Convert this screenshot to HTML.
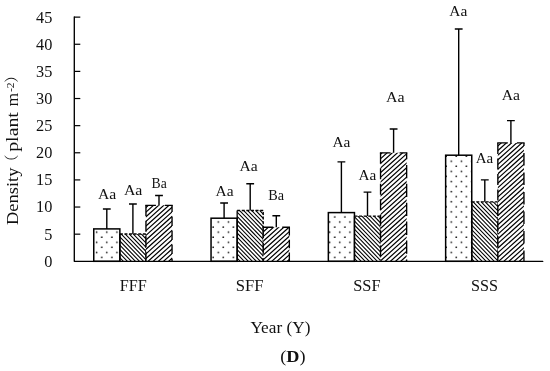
<!DOCTYPE html>
<html lang="en">
<head>
<meta charset="utf-8">
<title>Density chart (D)</title>
<style>
html,body{margin:0;padding:0;background:#fff;}
body{width:550px;height:371px;overflow:hidden;}
svg{display:block;}
text{font-family:"Liberation Serif","Noto Serif CJK SC",serif;fill:#111;}
.cjk{font-family:"Noto Serif CJK SC","Liberation Serif",serif;}
.ax{stroke:#000;stroke-width:1.35;fill:none;stroke-linecap:round;stroke-linejoin:round;}
.tk{stroke:#000;stroke-width:1.2;fill:none;}
.eb{stroke:#000;stroke-width:1.4;fill:none;}
</style>
</head>
<body>
<svg width="550" height="371" viewBox="0 0 550 371">
<defs>
<pattern id="dots" patternUnits="userSpaceOnUse" x="4.03" y="7.74" width="10.13" height="10.13"><circle cx="1.5" cy="1.5" r="0.8" fill="#000"/><circle cx="6.565" cy="6.565" r="0.8" fill="#000"/></pattern>
</defs>
<rect width="550" height="371" fill="#fff"/>
<rect x="93.75" y="228.90" width="26.1" height="32.40" fill="url(#dots)" stroke="#000" stroke-width="1.5"/>
<clipPath id="c1"><rect x="119.85" y="234.00" width="26.10" height="27.30"/></clipPath><path clip-path="url(#c1)" d="M106.29 185.21L194.37 276.42M104.20 187.23L192.29 278.44M102.12 189.24L190.20 280.45M100.03 191.25L188.11 282.47M97.95 193.27L186.03 284.48M95.86 195.28L183.94 286.50M93.77 197.30L181.86 288.51M91.69 199.31L179.77 290.52M89.60 201.33L177.68 292.54M87.51 203.34L175.60 294.55M85.43 205.36L173.51 296.57M83.34 207.37L171.43 298.58M81.26 209.39L169.34 300.60M79.17 211.40L167.25 302.61M77.08 213.41L165.17 304.63M75.00 215.43L163.08 306.64M72.91 217.44L160.99 308.66" fill="none" stroke="#000" stroke-width="1.08"/>
<path d="M119.85 261.3V234.00" fill="none" stroke="#000" stroke-width="1.3"/>
<path d="M119.85 234.00H145.95V261.3" fill="none" stroke="#000" stroke-width="1.3" stroke-dasharray="3 1.6"/>
<rect x="145.95" y="205.30" width="26.1" height="56.00" fill="#fff"/>
<clipPath id="c2"><rect x="145.95" y="205.30" width="26.10" height="56.00"/></clipPath><path clip-path="url(#c2)" d="M67.26 269.05L204.15 145.80M69.57 271.62L206.45 148.36M71.88 274.18L208.76 150.93M74.18 276.74L211.07 153.49M76.49 279.31L213.38 156.05M78.80 281.87L215.69 158.62M81.11 284.44L218.00 161.18M83.42 287.00L220.31 163.75M85.73 289.56L222.61 166.31M88.04 292.13L224.92 168.87M90.34 294.69L227.23 171.44M92.65 297.25L229.54 174.00M94.96 299.82L231.85 176.56M97.27 302.38L234.16 179.13M99.58 304.95L236.47 181.69M101.89 307.51L238.77 184.26M104.19 310.07L241.08 186.82M106.50 312.64L243.39 189.38M108.81 315.20L245.70 191.95M111.12 317.77L248.01 194.51M113.43 320.33L250.32 197.08" fill="none" stroke="#000" stroke-width="1.2"/>
<path d="M145.30 205.30H155.95M164.95 205.30H172.70" fill="none" stroke="#000" stroke-width="1.35"/>
<path d="M172.05 205.30V261.3" fill="none" stroke="#000" stroke-width="1.35" stroke-dasharray="9.5 4.5" stroke-dashoffset="2.8"/>
<path d="M145.95 205.30V261.3" fill="none" stroke="#000" stroke-width="1.35" stroke-dasharray="11 4.5"/>
<path class="eb" d="M106.80 228.90V209.00M102.90 209.00H110.70"/>
<path class="eb" d="M132.90 234.00V204.00M129.00 204.00H136.80"/>
<path class="eb" d="M159.00 205.30V195.50M155.10 195.50H162.90"/>
<rect x="211.05" y="218.20" width="26.1" height="43.10" fill="url(#dots)" stroke="#000" stroke-width="1.5"/>
<clipPath id="c3"><rect x="237.15" y="210.50" width="26.10" height="50.80"/></clipPath><path clip-path="url(#c3)" d="M211.62 152.35L332.36 277.37M209.54 154.36L330.27 279.38M207.45 156.38L328.18 281.40M205.37 158.39L326.10 283.41M203.28 160.41L324.01 285.43M201.19 162.42L321.92 287.44M199.11 164.43L319.84 289.46M197.02 166.45L317.75 291.47M194.94 168.46L315.67 293.48M192.85 170.48L313.58 295.50M190.76 172.49L311.49 297.51M188.68 174.51L309.41 299.53M186.59 176.52L307.32 301.54M184.50 178.54L305.24 303.56M182.42 180.55L303.15 305.57M180.33 182.57L301.06 307.59M178.25 184.58L298.98 309.60M176.16 186.59L296.89 311.62M174.07 188.61L294.81 313.63M171.99 190.62L292.72 315.64M169.90 192.64L290.63 317.66M167.82 194.65L288.55 319.67" fill="none" stroke="#000" stroke-width="1.08"/>
<path d="M237.15 261.3V210.50" fill="none" stroke="#000" stroke-width="1.3"/>
<path d="M237.15 210.50H263.25V261.3" fill="none" stroke="#000" stroke-width="1.3" stroke-dasharray="3 1.6"/>
<rect x="263.25" y="227.20" width="26.1" height="34.10" fill="#fff"/>
<clipPath id="c4"><rect x="263.25" y="227.20" width="26.10" height="34.10"/></clipPath><path clip-path="url(#c4)" d="M205.20 270.20L309.54 176.25M207.51 272.76L311.84 178.81M209.82 275.32L314.15 181.38M212.12 277.89L316.46 183.94M214.43 280.45L318.77 186.51M216.74 283.02L321.08 189.07M219.05 285.58L323.39 191.63M221.36 288.14L325.70 194.20M223.67 290.71L328.00 196.76M225.98 293.27L330.31 199.33M228.28 295.83L332.62 201.89M230.59 298.40L334.93 204.45M232.90 300.96L337.24 207.02M235.21 303.53L339.55 209.58M237.52 306.09L341.86 212.14M239.83 308.65L344.16 214.71M242.13 311.22L346.47 217.27" fill="none" stroke="#000" stroke-width="1.2"/>
<path d="M262.60 227.20H273.25M282.25 227.20H290.00" fill="none" stroke="#000" stroke-width="1.35"/>
<path d="M289.35 227.20V261.3" fill="none" stroke="#000" stroke-width="1.35" stroke-dasharray="8.5 4.2" stroke-dashoffset="0.2"/>
<path d="M263.25 227.20V261.3" fill="none" stroke="#000" stroke-width="1.35" stroke-dasharray="11 4.5"/>
<path class="eb" d="M224.10 218.20V203.00M220.20 203.00H228.00"/>
<path class="eb" d="M250.20 210.50V183.70M246.30 183.70H254.10"/>
<path class="eb" d="M276.30 227.20V215.70M272.40 215.70H280.20"/>
<rect x="328.35" y="212.60" width="26.1" height="48.70" fill="url(#dots)" stroke="#000" stroke-width="1.5"/>
<clipPath id="c5"><rect x="354.45" y="216.10" width="26.10" height="45.20"/></clipPath><path clip-path="url(#c5)" d="M331.93 160.03L444.88 277.00M329.84 162.05L442.79 279.01M327.75 164.06L440.71 281.03M325.67 166.08L438.62 283.04M323.58 168.09L436.53 285.06M321.50 170.11L434.45 287.07M319.41 172.12L432.36 289.08M317.32 174.13L430.28 291.10M315.24 176.15L428.19 293.11M313.15 178.16L426.10 295.13M311.07 180.18L424.02 297.14M308.98 182.19L421.93 299.16M306.89 184.21L419.84 301.17M304.81 186.22L417.76 303.19M302.72 188.24L415.67 305.20M300.64 190.25L413.59 307.21M298.55 192.26L411.50 309.23M296.46 194.28L409.41 311.24M294.38 196.29L407.33 313.26M292.29 198.31L405.24 315.27M290.20 200.32L403.16 317.29" fill="none" stroke="#000" stroke-width="1.08"/>
<path d="M354.45 261.3V216.10" fill="none" stroke="#000" stroke-width="1.3"/>
<path d="M354.45 216.10H380.55V261.3" fill="none" stroke="#000" stroke-width="1.3" stroke-dasharray="3 1.6"/>
<rect x="380.55" y="152.80" width="26.1" height="108.50" fill="#fff"/>
<clipPath id="c6"><rect x="380.55" y="152.80" width="26.10" height="108.50"/></clipPath><path clip-path="url(#c6)" d="M249.35 262.94L464.26 69.43M251.66 265.51L466.57 71.99M253.96 268.07L468.88 74.56M256.27 270.63L471.19 77.12M258.58 273.20L473.50 79.69M260.89 275.76L475.81 82.25M263.20 278.33L478.12 84.81M265.51 280.89L480.42 87.38M267.82 283.45L482.73 89.94M270.12 286.02L485.04 92.50M272.43 288.58L487.35 95.07M274.74 291.14L489.66 97.63M277.05 293.71L491.97 100.20M279.36 296.27L494.28 102.76M281.67 298.84L496.58 105.32M283.97 301.40L498.89 107.89M286.28 303.96L501.20 110.45M288.59 306.53L503.51 113.02M290.90 309.09L505.82 115.58M293.21 311.66L508.13 118.14M295.52 314.22L510.43 120.71M297.83 316.78L512.74 123.27M300.13 319.35L515.05 125.83M302.44 321.91L517.36 128.40M304.75 324.47L519.67 130.96M307.06 327.04L521.98 133.53M309.37 329.60L524.29 136.09M311.68 332.17L526.59 138.65M313.99 334.73L528.90 141.22M316.29 337.29L531.21 143.78M318.60 339.86L533.52 146.35M320.91 342.42L535.83 148.91M323.22 344.99L538.14 151.47" fill="none" stroke="#000" stroke-width="1.2"/>
<path d="M379.90 152.80H390.55M399.55 152.80H407.30" fill="none" stroke="#000" stroke-width="1.35"/>
<path d="M406.65 152.80V261.3" fill="none" stroke="#000" stroke-width="1.35" stroke-dasharray="13.3 5.6" stroke-dashoffset="6.8"/>
<path d="M380.55 152.80V261.3" fill="none" stroke="#000" stroke-width="1.35" stroke-dasharray="11 4.5"/>
<path class="eb" d="M341.40 212.60V161.90M337.50 161.90H345.30"/>
<path class="eb" d="M367.50 216.10V192.10M363.60 192.10H371.40"/>
<path class="eb" d="M393.60 152.80V129.00M389.70 129.00H397.50"/>
<rect x="445.65" y="155.20" width="26.1" height="106.10" fill="url(#dots)" stroke="#000" stroke-width="1.5"/>
<clipPath id="c7"><rect x="471.75" y="201.80" width="26.10" height="59.50"/></clipPath><path clip-path="url(#c7)" d="M443.86 138.18L576.68 275.72M441.78 140.20L574.60 277.73M439.69 142.21L572.51 279.75M437.61 144.23L570.42 281.76M435.52 146.24L568.34 283.78M433.43 148.25L566.25 285.79M431.35 150.27L564.17 287.81M429.26 152.28L562.08 289.82M427.18 154.30L559.99 291.84M425.09 156.31L557.91 293.85M423.00 158.33L555.82 295.86M420.92 160.34L553.74 297.88M418.83 162.36L551.65 299.89M416.74 164.37L549.56 301.91M414.66 166.38L547.48 303.92M412.57 168.40L545.39 305.94M410.49 170.41L543.31 307.95M408.40 172.43L541.22 309.97M406.31 174.44L539.13 311.98M404.23 176.46L537.05 314.00M402.14 178.47L534.96 316.01M400.06 180.49L532.87 318.02M397.97 182.50L530.79 320.04M395.88 184.52L528.70 322.05M393.80 186.53L526.62 324.07" fill="none" stroke="#000" stroke-width="1.08"/>
<path d="M471.75 261.3V201.80" fill="none" stroke="#000" stroke-width="1.3"/>
<path d="M471.75 201.80H497.85V261.3" fill="none" stroke="#000" stroke-width="1.3" stroke-dasharray="3 1.6"/>
<rect x="497.85" y="142.90" width="26.1" height="118.40" fill="#fff"/>
<clipPath id="c8"><rect x="497.85" y="142.90" width="26.10" height="118.40"/></clipPath><path clip-path="url(#c8)" d="M357.71 262.86L587.34 56.10M360.02 265.43L589.65 58.67M362.33 267.99L591.96 61.23M364.64 270.55L594.27 63.79M366.94 273.12L596.58 66.36M369.25 275.68L598.88 68.92M371.56 278.25L601.19 71.48M373.87 280.81L603.50 74.05M376.18 283.37L605.81 76.61M378.49 285.94L608.12 79.18M380.80 288.50L610.43 81.74M383.10 291.06L612.74 84.30M385.41 293.63L615.04 86.87M387.72 296.19L617.35 89.43M390.03 298.76L619.66 92.00M392.34 301.32L621.97 94.56M394.65 303.88L624.28 97.12M396.96 306.45L626.59 99.69M399.26 309.01L628.90 102.25M401.57 311.58L631.20 104.81M403.88 314.14L633.51 107.38M406.19 316.70L635.82 109.94M408.50 319.27L638.13 112.51M410.81 321.83L640.44 115.07M413.11 324.39L642.75 117.63M415.42 326.96L645.05 120.20M417.73 329.52L647.36 122.76M420.04 332.09L649.67 125.33M422.35 334.65L651.98 127.89M424.66 337.21L654.29 130.45M426.97 339.78L656.60 133.02M429.27 342.34L658.91 135.58M431.58 344.91L661.21 138.14M433.89 347.47L663.52 140.71" fill="none" stroke="#000" stroke-width="1.2"/>
<path d="M497.20 142.90H507.85M516.85 142.90H524.60" fill="none" stroke="#000" stroke-width="1.35"/>
<path d="M523.95 142.90V261.3" fill="none" stroke="#000" stroke-width="1.35" stroke-dasharray="12.5 7" stroke-dashoffset="9.3"/>
<path d="M497.85 142.90V261.3" fill="none" stroke="#000" stroke-width="1.35" stroke-dasharray="11 4.5"/>
<path class="eb" d="M458.70 155.20V29.00M454.80 29.00H462.60"/>
<path class="eb" d="M484.80 201.80V179.90M480.90 179.90H488.70"/>
<path class="eb" d="M510.90 142.90V120.60M507.00 120.60H514.80"/>
<path class="ax" d="M74.3 16.8V261.3H542.8"/>
<path class="tk" d="M74.3 234.17H80.3"/>
<path class="tk" d="M74.3 207.04H80.3"/>
<path class="tk" d="M74.3 179.91H80.3"/>
<path class="tk" d="M74.3 152.78H80.3"/>
<path class="tk" d="M74.3 125.65H80.3"/>
<path class="tk" d="M74.3 98.52H80.3"/>
<path class="tk" d="M74.3 71.39H80.3"/>
<path class="tk" d="M74.3 44.26H80.3"/>
<path class="tk" d="M74.3 17.13H80.3"/>
<text x="52.3" y="266.70" font-size="16.3" text-anchor="end">0</text>
<text x="52.3" y="239.57" font-size="16.3" text-anchor="end">5</text>
<text x="52.3" y="212.44" font-size="16.3" text-anchor="end">10</text>
<text x="52.3" y="185.31" font-size="16.3" text-anchor="end">15</text>
<text x="52.3" y="158.18" font-size="16.3" text-anchor="end">20</text>
<text x="52.3" y="131.05" font-size="16.3" text-anchor="end">25</text>
<text x="52.3" y="103.92" font-size="16.3" text-anchor="end">30</text>
<text x="52.3" y="76.79" font-size="16.3" text-anchor="end">35</text>
<text x="52.3" y="49.66" font-size="16.3" text-anchor="end">40</text>
<text x="52.3" y="22.53" font-size="16.3" text-anchor="end">45</text>
<text x="119.80" y="290.8" font-size="16.6" textLength="27.0" lengthAdjust="spacingAndGlyphs">FFF</text>
<text x="235.80" y="290.8" font-size="16.6" textLength="27.8" lengthAdjust="spacingAndGlyphs">SFF</text>
<text x="353.20" y="290.8" font-size="16.6" textLength="27.4" lengthAdjust="spacingAndGlyphs">SSF</text>
<text x="471.00" y="290.8" font-size="16.6" textLength="27.0" lengthAdjust="spacingAndGlyphs">SSS</text>
<text x="97.90" y="199.00" font-size="15.4" textLength="18.3" lengthAdjust="spacingAndGlyphs">Aa</text>
<text x="123.90" y="194.50" font-size="15.4" textLength="18.5" lengthAdjust="spacingAndGlyphs">Aa</text>
<text x="151.60" y="188.20" font-size="15.4" textLength="15.2" lengthAdjust="spacingAndGlyphs">Ba</text>
<text x="215.50" y="196.20" font-size="15.4" textLength="18.0" lengthAdjust="spacingAndGlyphs">Aa</text>
<text x="239.40" y="171.20" font-size="15.4" textLength="18.2" lengthAdjust="spacingAndGlyphs">Aa</text>
<text x="268.20" y="200.20" font-size="15.4" textLength="15.8" lengthAdjust="spacingAndGlyphs">Ba</text>
<text x="332.40" y="146.80" font-size="15.4" textLength="17.9" lengthAdjust="spacingAndGlyphs">Aa</text>
<text x="358.50" y="179.50" font-size="15.4" textLength="17.8" lengthAdjust="spacingAndGlyphs">Aa</text>
<text x="385.90" y="102.00" font-size="15.4" textLength="18.6" lengthAdjust="spacingAndGlyphs">Aa</text>
<text x="449.30" y="15.50" font-size="15.4" textLength="18.0" lengthAdjust="spacingAndGlyphs">Aa</text>
<text x="475.70" y="163.30" font-size="15.4" textLength="17.5" lengthAdjust="spacingAndGlyphs">Aa</text>
<text x="501.70" y="99.80" font-size="15.4" textLength="18.3" lengthAdjust="spacingAndGlyphs">Aa</text>
<text x="250.4" y="332.7" font-size="16.3" textLength="60" lengthAdjust="spacingAndGlyphs">Year (Y)</text>
<text x="280.2" y="362.1" font-size="16.3" textLength="25.3" lengthAdjust="spacingAndGlyphs">(<tspan font-weight="bold">D</tspan>)</text>
<g transform="translate(18.3 225) rotate(-90)"><text x="0" y="0" font-size="16.8" textLength="57.4" lengthAdjust="spacingAndGlyphs">Density</text><text class="cjk" x="55.9" y="-1.6" font-size="14.5">（</text><text x="73.2" y="0" font-size="16.8" textLength="39.7" lengthAdjust="spacingAndGlyphs">plant</text><text x="118.6" y="0" font-size="16.8" textLength="13.7" lengthAdjust="spacingAndGlyphs">m</text><text x="133" y="-4.8" font-size="11" textLength="9.6" lengthAdjust="spacingAndGlyphs">-2</text><text class="cjk" x="142.3" y="-1.6" font-size="14.5">）</text></g>
</svg>
</body>
</html>
